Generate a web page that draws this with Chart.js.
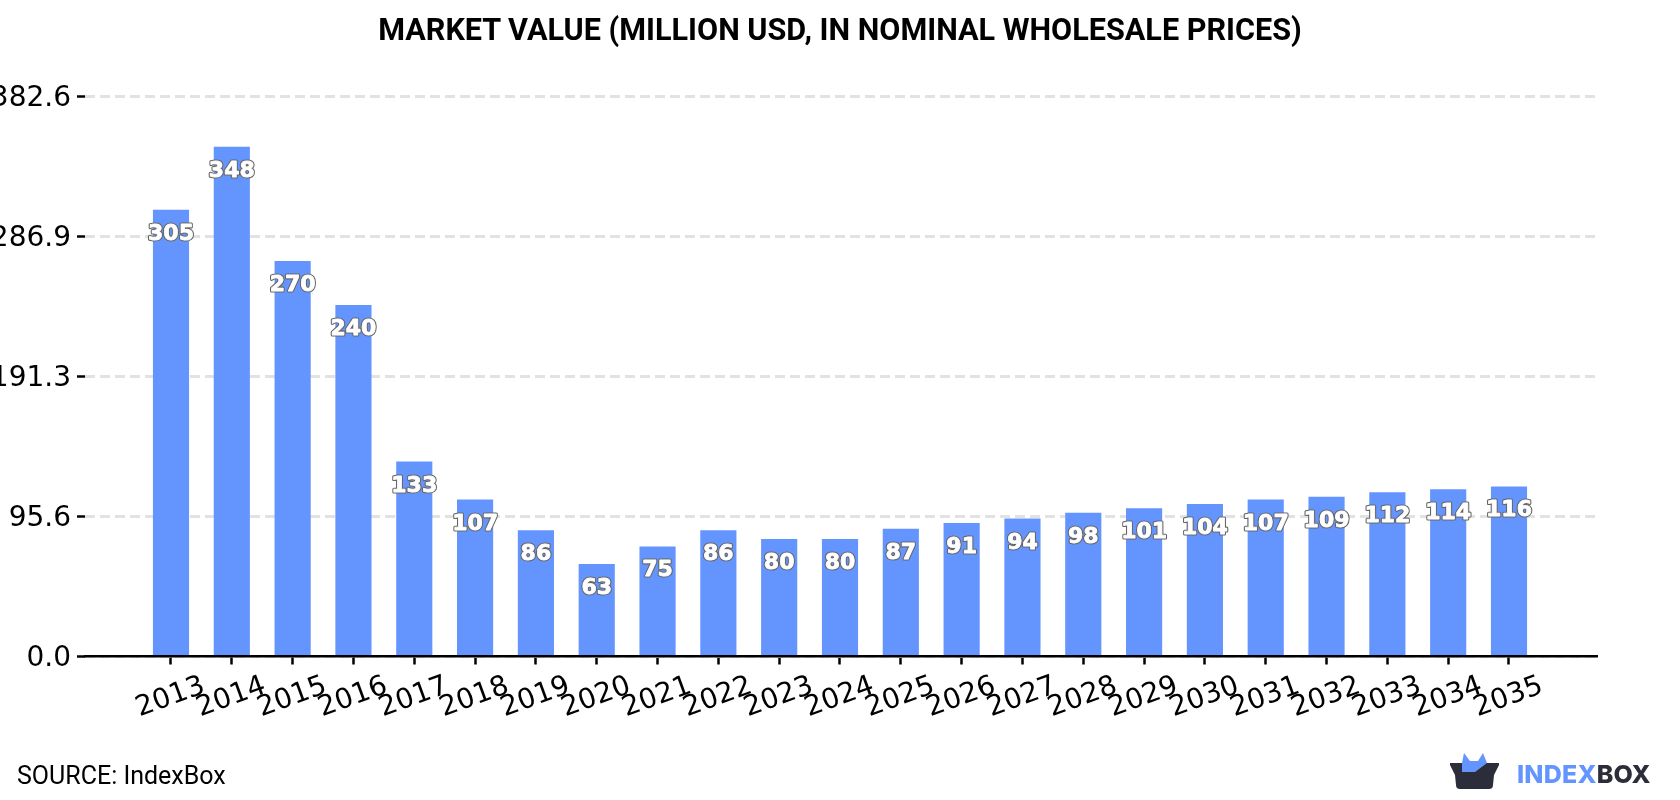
<!DOCTYPE html>
<html>
<head>
<meta charset="utf-8">
<title>Market value</title>
<script src="https://cdn.jsdelivr.net/npm/chart.js@4"></script>
<style>
  html, body { margin: 0; padding: 0; background: #fff; }
  #wrap { position: relative; width: 1680px; height: 800px; overflow: hidden; }
  #heading { position: absolute; left: 0; width: 1680px; top: 12px; text-align: center; font: 700 30.6px Roboto, sans-serif; color: #000; }
  #source { position: absolute; left: 17px; top: 761px; font: 25px Roboto, sans-serif; color: #000; }
  #logo { position: absolute; left: 1450px; top: 751px; width: 50px; height: 40px; }
  #brand { position: absolute; left: 1517px; top: 759px; font: 800 25px Inter, Roboto, sans-serif; letter-spacing: 0.2px; color: #2b2d3a; }
  #brand span { color: #6495ff; }
</style>
</head>
<body>
<div id="wrap">
  <canvas id="marketChart" width="1680" height="800"></canvas>
  <div id="heading">MARKET VALUE (MILLION USD, IN NOMINAL WHOLESALE PRICES)</div>
  <div id="source">SOURCE: IndexBox</div>
  <svg id="logo" viewBox="0 0 50 40">
    <path d="M0 12 L49 12 L49 14 L44 24 L43 34 Q43 38 39 38 L10 38 Q6 38 6 34 L5 24 L0 14 Z" fill="#2b2d3a"/>
    <path d="M12 21 L12 12 L14 2 L20 10 L28 10 L33 2 L37 12 L25 21 Z" fill="#6495ff"/>
  </svg>
  <div id="brand"><span>INDEX</span>BOX</div>
</div>
<script>
const years = [2013, 2014, 2015, 2016, 2017, 2018, 2019, 2020, 2021, 2022, 2023, 2024, 2025, 2026, 2027, 2028, 2029, 2030, 2031, 2032, 2033, 2034, 2035];
const marketValue = [305, 348, 270, 240, 133, 107, 86, 63, 75, 86, 80, 80, 87, 91, 94, 98, 101, 104, 107, 109, 112, 114, 116];
const yTickLabels = [0.0, 95.6, 191.3, 286.9, 382.6];

// White labels with a thin grey outline, sitting just under each bar top
const barLabels = {
    id: 'barLabels',
    afterDatasetsDraw(chart) {
        const ctx = chart.ctx;
        ctx.save();
        ctx.font = 'bold 22px "DejaVu Sans"';
        ctx.textAlign = 'center';
        ctx.textBaseline = 'middle';
        ctx.lineJoin = 'round';
        chart.getDatasetMeta(0).data.forEach((bar, i) => {
            const text = String(marketValue[i]);
            ctx.lineWidth = 3;
            ctx.strokeStyle = '#666';
            ctx.strokeText(text, bar.x, bar.y + 24);
            ctx.lineWidth = 0.8;
            ctx.strokeStyle = '#fff';
            ctx.strokeText(text, bar.x, bar.y + 24);
            ctx.fillStyle = '#fff';
            ctx.fillText(text, bar.x, bar.y + 24);
        });
        ctx.restore();
    }
};

new Chart(document.getElementById('marketChart').getContext('2d'), {
    type: 'bar',
    data: {
        datasets: [{
            data: years.map((y, i) => ({ x: y, y: marketValue[i] })),
            backgroundColor: '#6495ff',
            barThickness: 35.5
        }]
    },
    plugins: [barLabels],
    options: {
        responsive: false,
        animation: false,
        layout: { padding: { right: 83, top: 96.5, left: 0, bottom: 0 } },
        plugins: {
            legend: { display: false },
            tooltip: { enabled: false }
        },
        scales: {
            x: {
                type: 'linear',
                offset: false,
                min: 2011.586,
                max: 2036.447,
                afterBuildTicks(scale) {
                    scale.ticks = years.map(v => ({ value: v }));
                },
                afterFit(scale) { scale.height = 143.5; },
                grid: { offset: false, drawOnChartArea: false, tickColor: '#000', tickLength: 8, tickWidth: 2.5 },
                border: { color: '#000', width: 2.5, z: 1 },
                ticks: {
                    autoSkip: false,
                    minRotation: 20,
                    maxRotation: 20,
                    labelOffset: 33,
                    padding: 5,
                    color: '#000',
                    font: { family: 'DejaVu Sans', size: 28 },
                    callback: v => String(v)
                }
            },
            y: {
                min: 0,
                max: 382.6,
                afterBuildTicks(scale) {
                    scale.ticks = yTickLabels.map(v => ({ value: v }));
                },
                afterFit(scale) { scale.width = 85; },
                grid: { color: '#e2e2e2', lineWidth: 3, tickColor: '#000', tickLength: 8, tickWidth: 2.5 },
                border: { display: false, dash: [10, 5] },
                ticks: {
                    padding: 6,
                    labelOffset: 2,
                    color: '#000',
                    font: { family: 'DejaVu Sans', size: 28 },
                    callback: v => v.toFixed(1)
                }
            }
        }
    }
});
</script>
</body>
</html>
